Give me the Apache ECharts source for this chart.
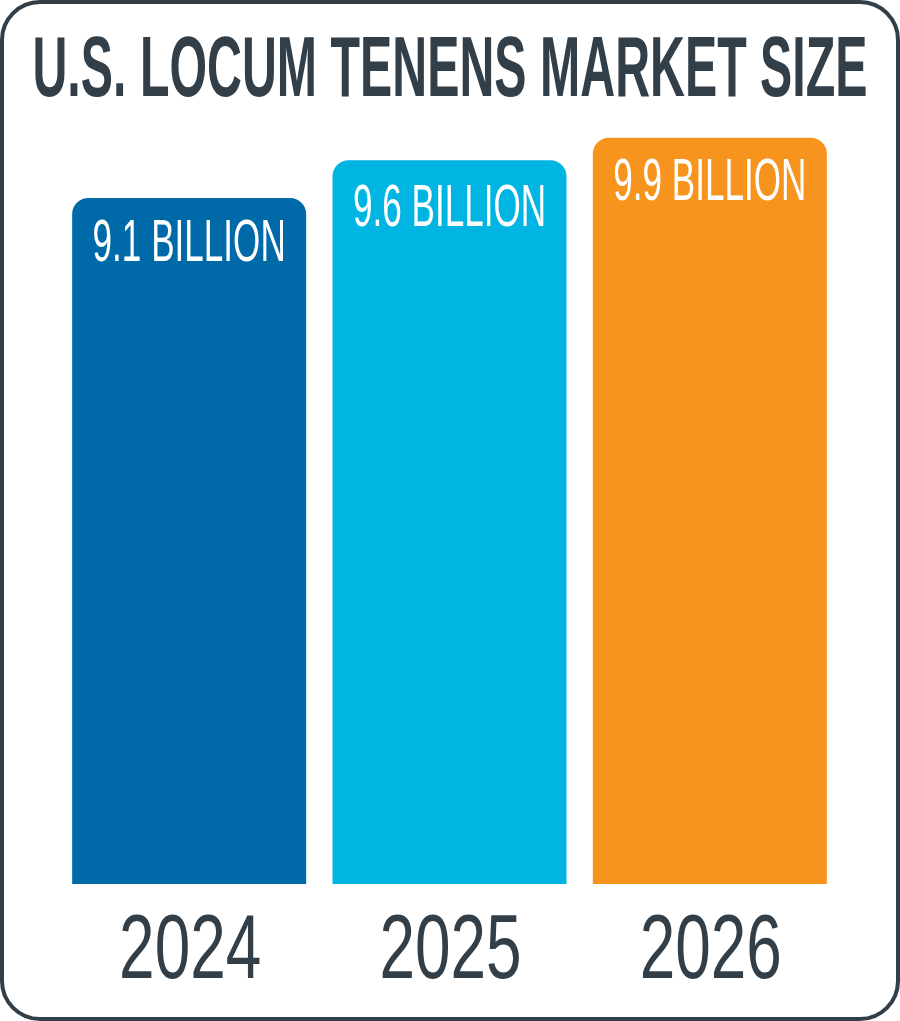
<!DOCTYPE html>
<html>
<head>
<meta charset="utf-8">
<title>U.S. Locum Tenens Market Size</title>
<script src="https://cdn.jsdelivr.net/npm/echarts@6/dist/echarts.min.js"></script>
<style>
html, body { margin: 0; padding: 0; background: #fff; }
#chart { width: 900px; height: 1021px; }
</style>
</head>
<body>
<div id="chart"></div>
<script>
// chart data
const titleText = 'U.S. LOCUM TENENS MARKET SIZE';
const years = ['2024', '2025', '2026'];
const marketSize = [9.1, 9.6, 9.9];
const barColors = ['#0069a7', '#00b5e2', '#f7941d'];

const textColor = '#323e48';
const fontName = '"Liberation Sans", sans-serif';

// no condensed font is installed, so text gets squeezed horizontally
const titleSqueeze = 0.562;
const valueSqueeze = 0.585;
const yearSqueeze = 0.71;

const valueOffsets = [46, 49, 46];

const chart = echarts.init(document.getElementById('chart'));

// value label inside the top of each bar, year label under it
function renderLabels(params, api) {
    const i = api.value(0);
    const top = api.coord([i, api.value(1)]);
    const base = api.coord([i, 0]);
    return {
        type: 'group',
        children: [
            {
                type: 'text',
                x: top[0],
                y: top[1] + valueOffsets[i],
                scaleX: valueSqueeze,
                style: {
                    text: api.value(1) + ' BILLION',
                    fontFamily: fontName,
                    fontSize: 60,
                    fill: '#fff',
                    align: 'center',
                    verticalAlign: 'middle'
                }
            },
            {
                type: 'text',
                x: base[0] + 1,
                y: base[1] + 69.5,
                scaleX: yearSqueeze,
                style: {
                    text: years[i],
                    fontFamily: fontName,
                    fontSize: 90,
                    fill: textColor,
                    align: 'center',
                    verticalAlign: 'middle'
                }
            }
        ]
    };
}

chart.setOption({
    animation: false,
    graphic: [
        {
            type: 'rect',
            z: -1,
            shape: { x: 2, y: 2, width: 896, height: 1017, r: 38 },
            style: { fill: '#fff', stroke: textColor, lineWidth: 4 }
        },
        {
            type: 'text',
            x: 450,
            y: 72,
            scaleX: titleSqueeze,
            style: {
                text: titleText,
                fontFamily: fontName,
                fontWeight: 'bold',
                fontSize: 86,
                fill: textColor,
                align: 'center',
                verticalAlign: 'middle'
            }
        }
    ],
    grid: { left: 59, right: 60, top: 100, bottom: 137 },
    xAxis: {
        type: 'category',
        data: years,
        axisLine: { show: false },
        axisTick: { show: false },
        axisLabel: { show: false }
    },
    yAxis: {
        type: 'value',
        min: 0,
        max: 10.4,
        show: false
    },
    series: [
        {
            type: 'bar',
            barWidth: 234,
            data: marketSize.map((v, i) => ({
                value: v,
                itemStyle: {
                    color: barColors[i],
                    borderRadius: [16, 16, 0, 0]
                }
            }))
        },
        {
            type: 'custom',
            renderItem: renderLabels,
            data: marketSize.map((v, i) => [i, v]),
            z: 5,
            clip: false
        }
    ]
});
</script>
</body>
</html>
